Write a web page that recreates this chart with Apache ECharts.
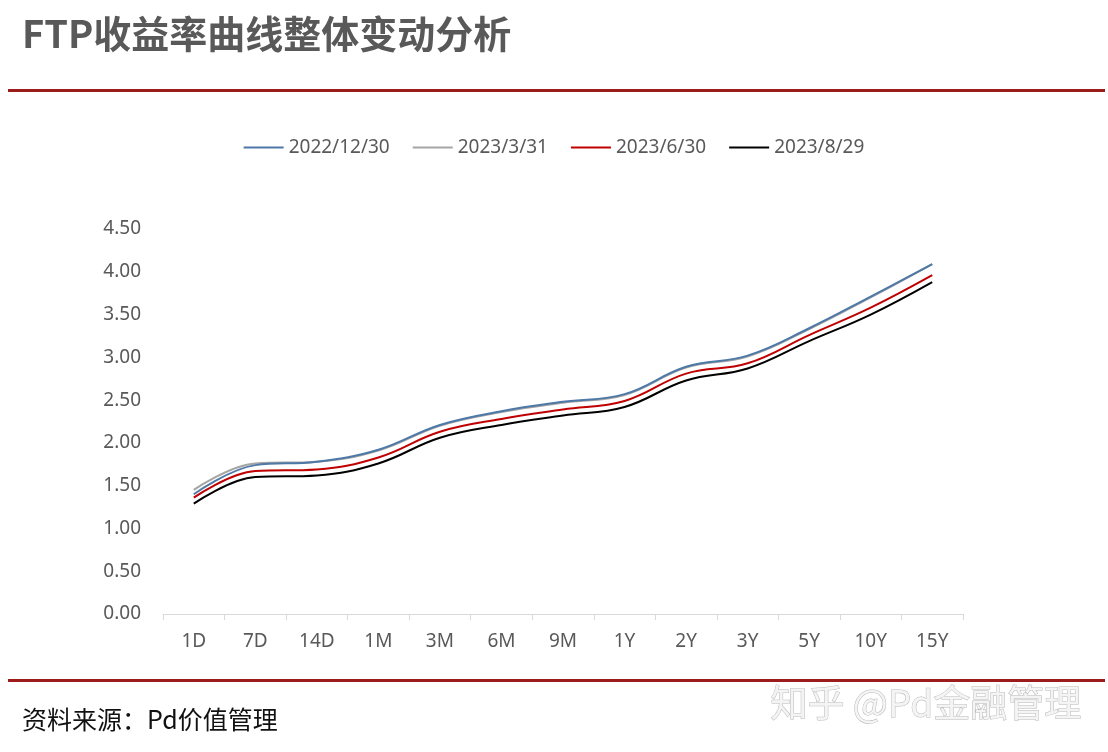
<!DOCTYPE html>
<html><head><meta charset="utf-8">
<script src="https://cdn.jsdelivr.net/npm/echarts@6/dist/echarts.min.js"></script>
<style>html,body{margin:0;padding:0;background:#fff}#c{width:1108px;height:752px}</style>
</head><body><div id="c"></div>
<script>
var categories = ['1D','7D','14D','1M','3M','6M','9M','1Y','2Y','3Y','5Y','10Y','15Y'];
var s20221230 = [1.40,1.74,1.78,1.92,2.21,2.37,2.48,2.57,2.89,3.02,3.34,3.71,4.09];
var s20230331 = [1.45,1.76,1.78,1.91,2.20,2.36,2.47,2.56,2.88,3.01,3.33,3.70,4.09];
var s20230630 = [1.36,1.67,1.69,1.83,2.13,2.28,2.39,2.49,2.81,2.93,3.26,3.58,3.96];
var s20230829 = [1.29,1.60,1.62,1.76,2.06,2.21,2.32,2.42,2.73,2.87,3.19,3.50,3.88];
var seriesNames = ['2022/12/30','2023/3/31','2023/6/30','2023/8/29'];

var font = '"Noto Sans", "Noto Sans CJK SC", sans-serif';
var chart = echarts.init(document.getElementById('c'));
var colors = ['#4e79a7','#a5a5a5','#c00000','#000000'];
var data = [s20221230, s20230331, s20230630, s20230829];
chart.setOption({
  animation:false,
  color: colors,
  textStyle:{fontFamily:font},
  legend:{
    top:133, left:'center', itemWidth:40, itemHeight:2, itemGap:23,
    icon:'rect',
    textStyle:{color:'#595959', fontSize:19, fontFamily:font},
    data: seriesNames
  },
  grid:{left:163, right:145, top:229, bottom:138},
  xAxis:{
    type:'category', data:categories, boundaryGap:true,
    axisLine:{lineStyle:{color:'#d9d9d9', width:1}},
    axisTick:{show:true, length:6, lineStyle:{color:'#d9d9d9'}},
    axisLabel:{color:'#595959', fontSize:19, margin:18, fontFamily:font}
  },
  yAxis:{
    type:'value', min:0, max:4.5, interval:0.5,
    axisLine:{show:false}, axisTick:{show:false}, splitLine:{show:false},
    axisLabel:{color:'#595959', fontSize:19, margin:22, fontFamily:font, padding:[3,0,0,0],
      formatter:function(v){return v.toFixed(2);}}
  },
  series: seriesNames.map(function(n,i){
    return {name:n, type:'line', data:data[i], smooth:0.4, symbol:'none',
      lineStyle:{width:2, color:colors[i]}, z: i===1?1:(i===0?3:2+i)};
  }),
  graphic:[
    {type:'text', left:22, top:15, style:{text:'FTP收益率曲线整体变动分析', fill:'#595959', font:'bold 38px "Noto Sans CJK SC"'}},
    {type:'rect', shape:{x:8, y:89, width:1097, height:3}, style:{fill:'#9c1c1c'}},
    {type:'rect', shape:{x:8, y:679, width:1097, height:3}, style:{fill:'#9c1c1c'}},
    {type:'text', left:22, top:707, style:{text:'资料来源：Pd价值管理', fill:'#111', font:'25px "Noto Sans CJK SC"'}},
    {type:'text', left:770, top:684, style:{text:'知乎 @Pd金融管理', fill:'#f4f4f4', stroke:'#b8b8b8', lineWidth:1, font:'37px "Noto Sans CJK SC"'}}
  ]
});
</script></body></html>
